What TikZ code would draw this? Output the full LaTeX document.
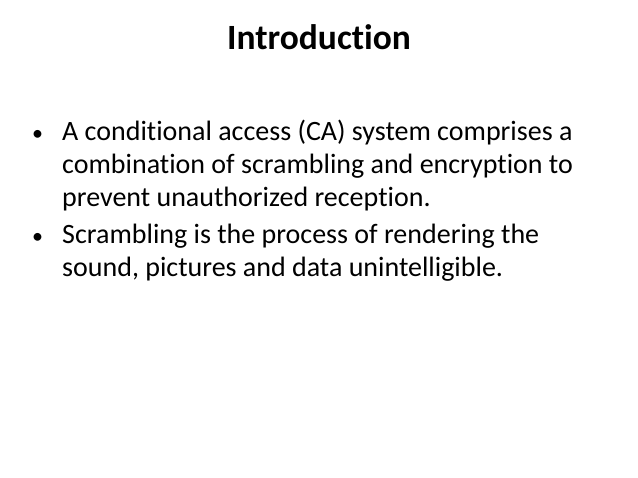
\documentclass[tikz,border=0pt]{standalone}
\usepackage{fontspec}
\setmainfont{Carlito}[Ligatures=NoCommon]
\begin{document}
\begin{tikzpicture}[x=1pt,y=1pt,
  body/.style={anchor=base west,inner sep=0pt,font=\fontsize{28}{32}\selectfont},
  bul/.style={anchor=base west,inner sep=0pt,font=\fontsize{22}{28}\selectfont}]
\useasboundingbox[fill=white] (0,0) rectangle (638,478);
\node[anchor=base,inner sep=0pt,font=\bfseries\fontsize{35.5}{40}\selectfont] (title) at (319,428) {Introduction};
\node[bul] (b1) at (32,337) {•};
\node[body] (l1) at (62,337) {A conditional access (CA) system comprises a};
\node[body] (l2) at (62,304) {combination of scrambling and encryption to};
\node[body] (l3) at (62,271) {prevent unauthorized reception.};
\node[bul] (b2) at (32,234) {•};
\node[body] (l4) at (62,234) {Scrambling is the process of rendering the};
\node[body] (l5) at (62,201) {sound, pictures and data unintelligible.};
\end{tikzpicture}
\end{document}
